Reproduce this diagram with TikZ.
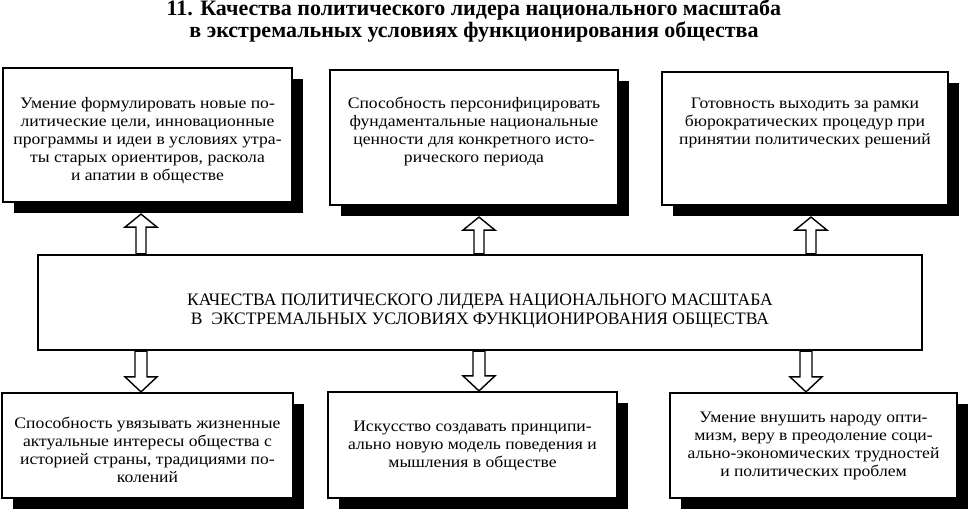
\documentclass[tikz,border=0pt]{standalone}
\usepackage{fontspec}
\setmainfont{Liberation Serif}
\usetikzlibrary{shadows,calc}
\tikzset{
  qbox/.style={draw=black, line width=2.2pt, fill=white, inner sep=0pt,
    drop shadow={shadow xshift=11pt, shadow yshift=-11pt, fill=black, opacity=1}},
  btext/.style={align=center, inner sep=0pt,
    font=\addfontfeature{FakeStretch=1.1}\fontsize{16}{18}\selectfont},
  mainbox/.style={draw=black, line width=2.2pt, fill=white, inner sep=0pt},
  ctext/.style={align=center, inner sep=0pt, font=\fontsize{17.5}{19}\selectfont},
  titletext/.style={align=center, font=\bfseries\fontsize{22}{21.5}\selectfont},
  blockarr/.style={draw=black, line width=1.4pt, fill=white, line join=miter}
}
\newcommand\uparr[2]{%
  \path[blockarr] let \p1=(#1), \p2=(#2) in
    (\x1-5pt,\y1) -- (\x1-5pt,\y2-13pt) -- (\x1-16pt,\y2-13pt) -- (\x2,\y2)
    -- (\x1+16pt,\y2-13pt) -- (\x1+5pt,\y2-13pt) -- (\x1+5pt,\y1) -- cycle;}
\newcommand\downarr[2]{%
  \path[blockarr] let \p1=(#1), \p2=(#2) in
    (\x1-6pt,\y1) -- (\x1-6pt,\y2+15pt) -- (\x1-16pt,\y2+15pt) -- (\x2,\y2)
    -- (\x1+16pt,\y2+15pt) -- (\x1+6pt,\y2+15pt) -- (\x1+6pt,\y1) -- cycle;}
\begin{document}
\begin{tikzpicture}[x=1pt,y=-1pt]
\useasboundingbox[fill=white] (0,0) rectangle (972,512);

\node[titletext] (title) at (474,21) {11. Качества политического лидера национального масштаба\\
в экстремальных условиях функционирования общества};

\node[qbox, minimum width=289pt, minimum height=134pt] (b1) at (147.5,135) {};
\node[qbox, minimum width=288pt, minimum height=135pt] (b2) at (474,137.5) {};
\node[qbox, minimum width=286pt, minimum height=133pt] (b3) at (805,138.5) {};
\node[mainbox, minimum width=884pt, minimum height=95pt] (c) at (480,302.5) {};
\node[qbox, minimum width=291pt, minimum height=105pt] (b4) at (147.5,445.5) {};
\node[qbox, minimum width=289pt, minimum height=106pt] (b5) at (472.5,445) {};
\node[qbox, minimum width=287pt, minimum height=105pt] (b6) at (813.5,445.5) {};

\node[btext] (t1) at ([yshift=-6pt]b1.center)
  {Умение формулировать новые по-\\литические цели, инновационные\\программы и идеи в условиях утра-\\ты старых ориентиров, раскола\\и апатии в обществе};
\node[btext] (t2) at ([yshift=6pt]b2.center)
  {Способность персонифицировать\\фундаментальные национальные\\ценности для конкретного исто-\\рического периода};
\node[btext] (t3) at ([yshift=16pt]b3.center)
  {Готовность выходить за рамки\\бюрократических процедур при\\принятии политических решений};
\node[ctext] (tc) at ([yshift=-8.5pt]c.center)
  {КАЧЕСТВА ПОЛИТИЧЕСКОГО ЛИДЕРА НАЦИОНАЛЬНОГО МАСШТАБА\\В\ \ ЭКСТРЕМАЛЬНЫХ УСЛОВИЯХ ФУНКЦИОНИРОВАНИЯ ОБЩЕСТВА};
\node[btext] (t4) at ([yshift=-4pt]b4.center)
  {Способность увязывать жизненные\\актуальные интересы общества с\\историей страны, традициями по-\\колений};
\node[btext] (t5) at ([yshift=-1pt]b5.center)
  {Искусство создавать принципи-\\ально новую модель поведения и\\мышления в обществе};
\node[btext] (t6) at (b6.center)
  {Умение внушить народу опти-\\мизм, веру в преодоление соци-\\ально-экономических трудностей\\и политических проблем};

% arrow axes
\coordinate (u1) at ([xshift=-6.5pt,yshift=-11pt]b1.south);
\coordinate (u2) at ([xshift=5pt,yshift=-11pt]b2.south);
\coordinate (u3) at ([xshift=6pt,yshift=-11pt]b3.south);
\coordinate (d1) at ([xshift=-6.5pt]b4.north);
\coordinate (d2) at ([xshift=6.5pt]b5.north);
\coordinate (d3) at ([xshift=-7.5pt]b6.north);

\uparr{u1 |- c.north}{u1}
\uparr{u2 |- c.north}{u2}
\uparr{u3 |- c.north}{u3}
\downarr{d1 |- c.south}{d1}
\downarr{d2 |- c.south}{d2}
\downarr{d3 |- c.south}{d3}
\end{tikzpicture}
\end{document}
